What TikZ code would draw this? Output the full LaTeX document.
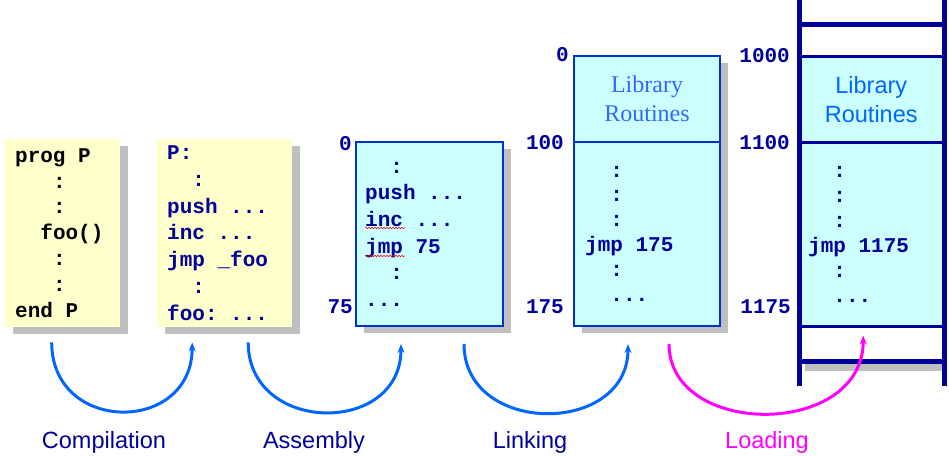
\documentclass[tikz,border=0pt]{standalone}
\usepackage{fontspec}
\setmainfont{Liberation Serif}
\setsansfont{Liberation Sans}
\setmonofont{Liberation Mono}
\usetikzlibrary{
  arrows.meta,
  positioning,
  shadows,
  decorations.pathmorphing
}
\definecolor{lkYellow}{HTML}{FFFFCC}
\definecolor{lkCyan}{HTML}{CCFFFF}
\definecolor{lkBlue}{HTML}{0033CC}
\definecolor{lkNavy}{HTML}{000099}
\definecolor{lkArrow}{HTML}{0066FF}
\definecolor{lkTitle}{HTML}{3366FF}
\definecolor{lkLoad}{HTML}{FF00FF}
\definecolor{lkShadow}{HTML}{BFBFBF}
\newcommand{\ind}[1]{\hphantom{#1}}
\tikzset{
  lkshadow/.style={drop shadow={shadow xshift=8pt, shadow yshift=-7pt, fill=lkShadow, opacity=1}},
  srcbox/.style={fill=lkYellow, anchor=north west, inner sep=0pt, lkshadow},
  objbox/.style={fill=lkCyan, draw=lkBlue, line width=2pt, anchor=north west, inner sep=0pt, lkshadow},
  memcell/.style={fill=lkCyan, draw=lkNavy, line width=2.5pt, anchor=north west, inner sep=0pt},
  memwall/.style={draw=lkNavy, line width=5pt},
  asmtext/.style={anchor=north west, inner sep=0pt, align=left,
    font=\ttfamily\bfseries\fontsize{21}{#1}\selectfont},
  addr/.style={anchor=east, inner sep=0pt, text=lkNavy, font=\ttfamily\bfseries\fontsize{21}{25}\selectfont},
  libtitle/.style={align=center, inner sep=0pt, text=lkTitle, font=\rmfamily\fontsize{24}{29}\selectfont},
  memtitle/.style={align=center, inner sep=0pt, text=lkArrow, font=\sffamily\fontsize{23.5}{29}\selectfont},
  stepflow/.style={-{Stealth[length=9pt, width=7pt]}, line width=3pt, lkArrow},
  loadflow/.style={stepflow, lkLoad},
  phase/.style={inner sep=0pt, text=lkNavy, font=\sffamily\fontsize{23.5}{28}\selectfont},
  spellmark/.style={red, line width=0.6pt, decorate, decoration={snake, amplitude=0.7pt, segment length=3pt}}
}
\begin{document}
\begin{tikzpicture}[x=1pt, y=-1pt]
  \useasboundingbox (0,0) rectangle (949,455);
  % source and assembly
  \node[srcbox, minimum width=115pt, minimum height=188pt] (src) at (5,139) {};
  \node[asmtext=25.8] (srctext) at (15,144) {\strut prog P\\ \ind{xxx}:\\ \ind{xxx}:\\ \ind{xx}foo()\\ \ind{xxx}:\\ \ind{xxx}:\\ end P};
  \node[srcbox, minimum width=135pt, minimum height=188pt] (asm) at (157,139) {};
  \node[asmtext=26.7, text=lkNavy] (asmtext) at (167,141) {\strut P:\\ \ind{xx}:\\ push ...\\ inc ...\\ jmp \_foo\\ \ind{xx}:\\ foo: ...};
  % object module
  \node[objbox, minimum width=147pt, minimum height=184pt] (obj) at (355,141) {};
  \node[asmtext=26.6, text=lkNavy] (objtext) at (365,154.4) {\strut\ind{xx}:\\ push ...\\ inc ...\\ jmp 75\\ \ind{xx}:\\ ...};
  \draw[spellmark] (365,228) -- (405,228);
  \draw[spellmark] (365,256) -- (405,256);
  \node[addr] (objtop) at (352,144) {0};
  \node[addr] (objend) at (353,307) {75};
  % linked module
  \node[objbox, minimum width=146pt, minimum height=86pt] (libtop) at (573,55) {};
  \node[objbox, minimum width=146pt, minimum height=184pt] (libbody) at (573,141) {};
  \node[libtitle] (libname) at (libtop) {Library\\Routines};
  \node[asmtext=24.8, text=lkNavy] (libtext) at (585,159.6) {\strut\ind{xx}:\\ \ind{xx}:\\ \ind{xx}:\\ jmp 175\\ \ind{xx}:\\ \ind{xx}...};
  \node[addr] (libzero) at (569,55) {0};
  \node[addr] (libhundred) at (564,143) {100};
  \node[addr] (libend) at (564,307) {175};
  % memory
  \node[memcell, minimum width=146pt, minimum height=86pt] (memlib) at (797,55) {};
  \node[memcell, minimum width=146pt, minimum height=184pt] (mem) at (797,141) {};
  \node[memtitle] (memname) at (memlib) {Library\\Routines};
  \node[asmtext=25, text=lkNavy] (memtext) at (808,159.5) {\strut\ind{xx}:\\ \ind{xx}:\\ \ind{xx}:\\ jmp 1175\\ \ind{xx}:\\ \ind{xx}...};
  \node[addr] (memzero) at (790,56) {1000};
  \node[addr] (memhundred) at (790,143) {1100};
  \node[addr] (memend) at (791,307) {1175};
  \fill[lkShadow] (805,363) rectangle (944,371);
  \draw[memwall] (799.5,24) -- (944,24);
  \draw[memwall] (799.5,361) -- (944,361);
  \draw[memwall] (799.5,0) -- (799.5,386);
  \draw[memwall] (944,0) -- (944,386);
  % translation steps
  \draw[stepflow] ([xshift=-11pt, yshift=-15pt]src.south) .. controls +(0,92) and +(0,92) .. ([xshift=-32.5pt, yshift=-15pt]asm.south);
  \draw[stepflow] ([xshift=23.5pt, yshift=-15pt]asm.south) .. controls +(0,92) and +(0,92) .. ([xshift=-28.5pt, yshift=-17pt]obj.south);
  \draw[stepflow] ([xshift=34.5pt, yshift=-17pt]obj.south) .. controls +(0,92) and +(0,92) .. ([xshift=-19pt, yshift=-17pt]libbody.south);
  \draw[loadflow] ([xshift=22pt, yshift=-17pt]libbody.south) .. controls +(0,94) and +(0,103) .. ([xshift=-8pt, yshift=-8pt]mem.south);
  \node[phase] (compile) at (104,442) {Compilation};
  \node[phase] (assemble) at (314,442) {Assembly};
  \node[phase] (link) at (530,442) {Linking};
  \node[phase, text=lkLoad] (load) at (767,442) {Loading};
\end{tikzpicture}
\end{document}
